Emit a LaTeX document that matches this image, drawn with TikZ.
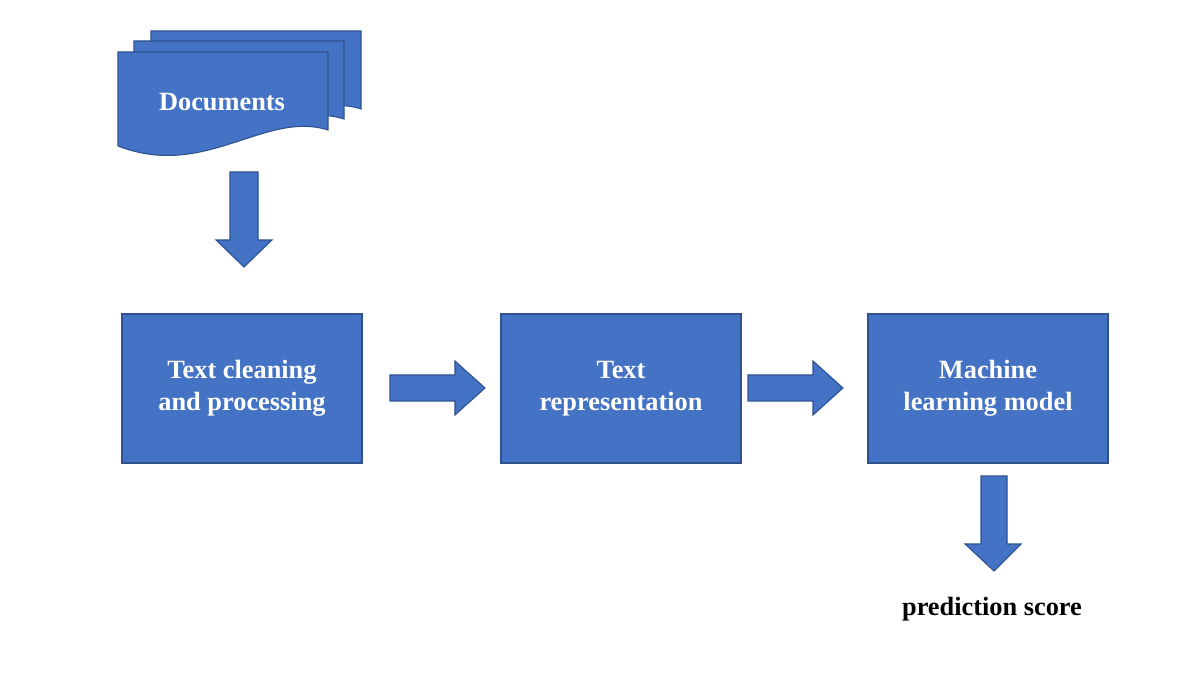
\documentclass[tikz,border=0pt]{standalone}
\usepackage{fontspec}
\setmainfont{Liberation Serif}
\begin{document}
\begin{tikzpicture}[x=0.02cm,y=-0.02cm,
  blk/.style={fill={rgb,255:red,68;green,114;blue,196},draw={rgb,255:red,47;green,82;blue,143},line width=0.6pt},
  lbl/.style={text=white,font=\bfseries\fontsize{15}{18}\selectfont,align=center}]
\useasboundingbox (0,0) rectangle (1200,675);
\fill[white] (0,0) rectangle (1200,675);
% documents
\foreach \dx/\dy in {33/-21,16/-11,0/0}{
  \draw[blk] (118+\dx,52+\dy) -- (328+\dx,52+\dy) -- (328+\dx,130+\dy)
    .. controls (265+\dx,110+\dy) and (205+\dx,180+\dy) .. (118+\dx,146+\dy) -- cycle;}
\node[lbl] (docs) at (222,102) {Documents};
% boxes
\node[blk,minimum width=240*0.02cm,minimum height=149*0.02cm,lbl] (b1) at (242,388.5) {Text cleaning\\and processing};
\node[blk,minimum width=240*0.02cm,minimum height=149*0.02cm,lbl] (b2) at (621,388.5) {Text\\representation};
\node[blk,minimum width=240*0.02cm,minimum height=149*0.02cm,lbl] (b3) at (988,388.5) {Machine\\learning model};
% down arrows
\draw[blk] (230,172) -- (258,172) -- (258,240) -- (272,240) -- (244,267) -- (216,240) -- (230,240) -- cycle;
\draw[blk] (981,476) -- (1007,476) -- (1007,544) -- (1021,544) -- (994,571) -- (965,544) -- (981,544) -- cycle;
% right arrows
\foreach \x in {390,748}{
  \draw[blk] (\x,375) -- (\x+65,375) -- (\x+65,361) -- (\x+95,388) -- (\x+65,415) -- (\x+65,401) -- (\x,401) -- cycle;}
\node[font=\bfseries\fontsize{15}{18}\selectfont] (ps) at (992,609) {prediction score};
\end{tikzpicture}
\end{document}
